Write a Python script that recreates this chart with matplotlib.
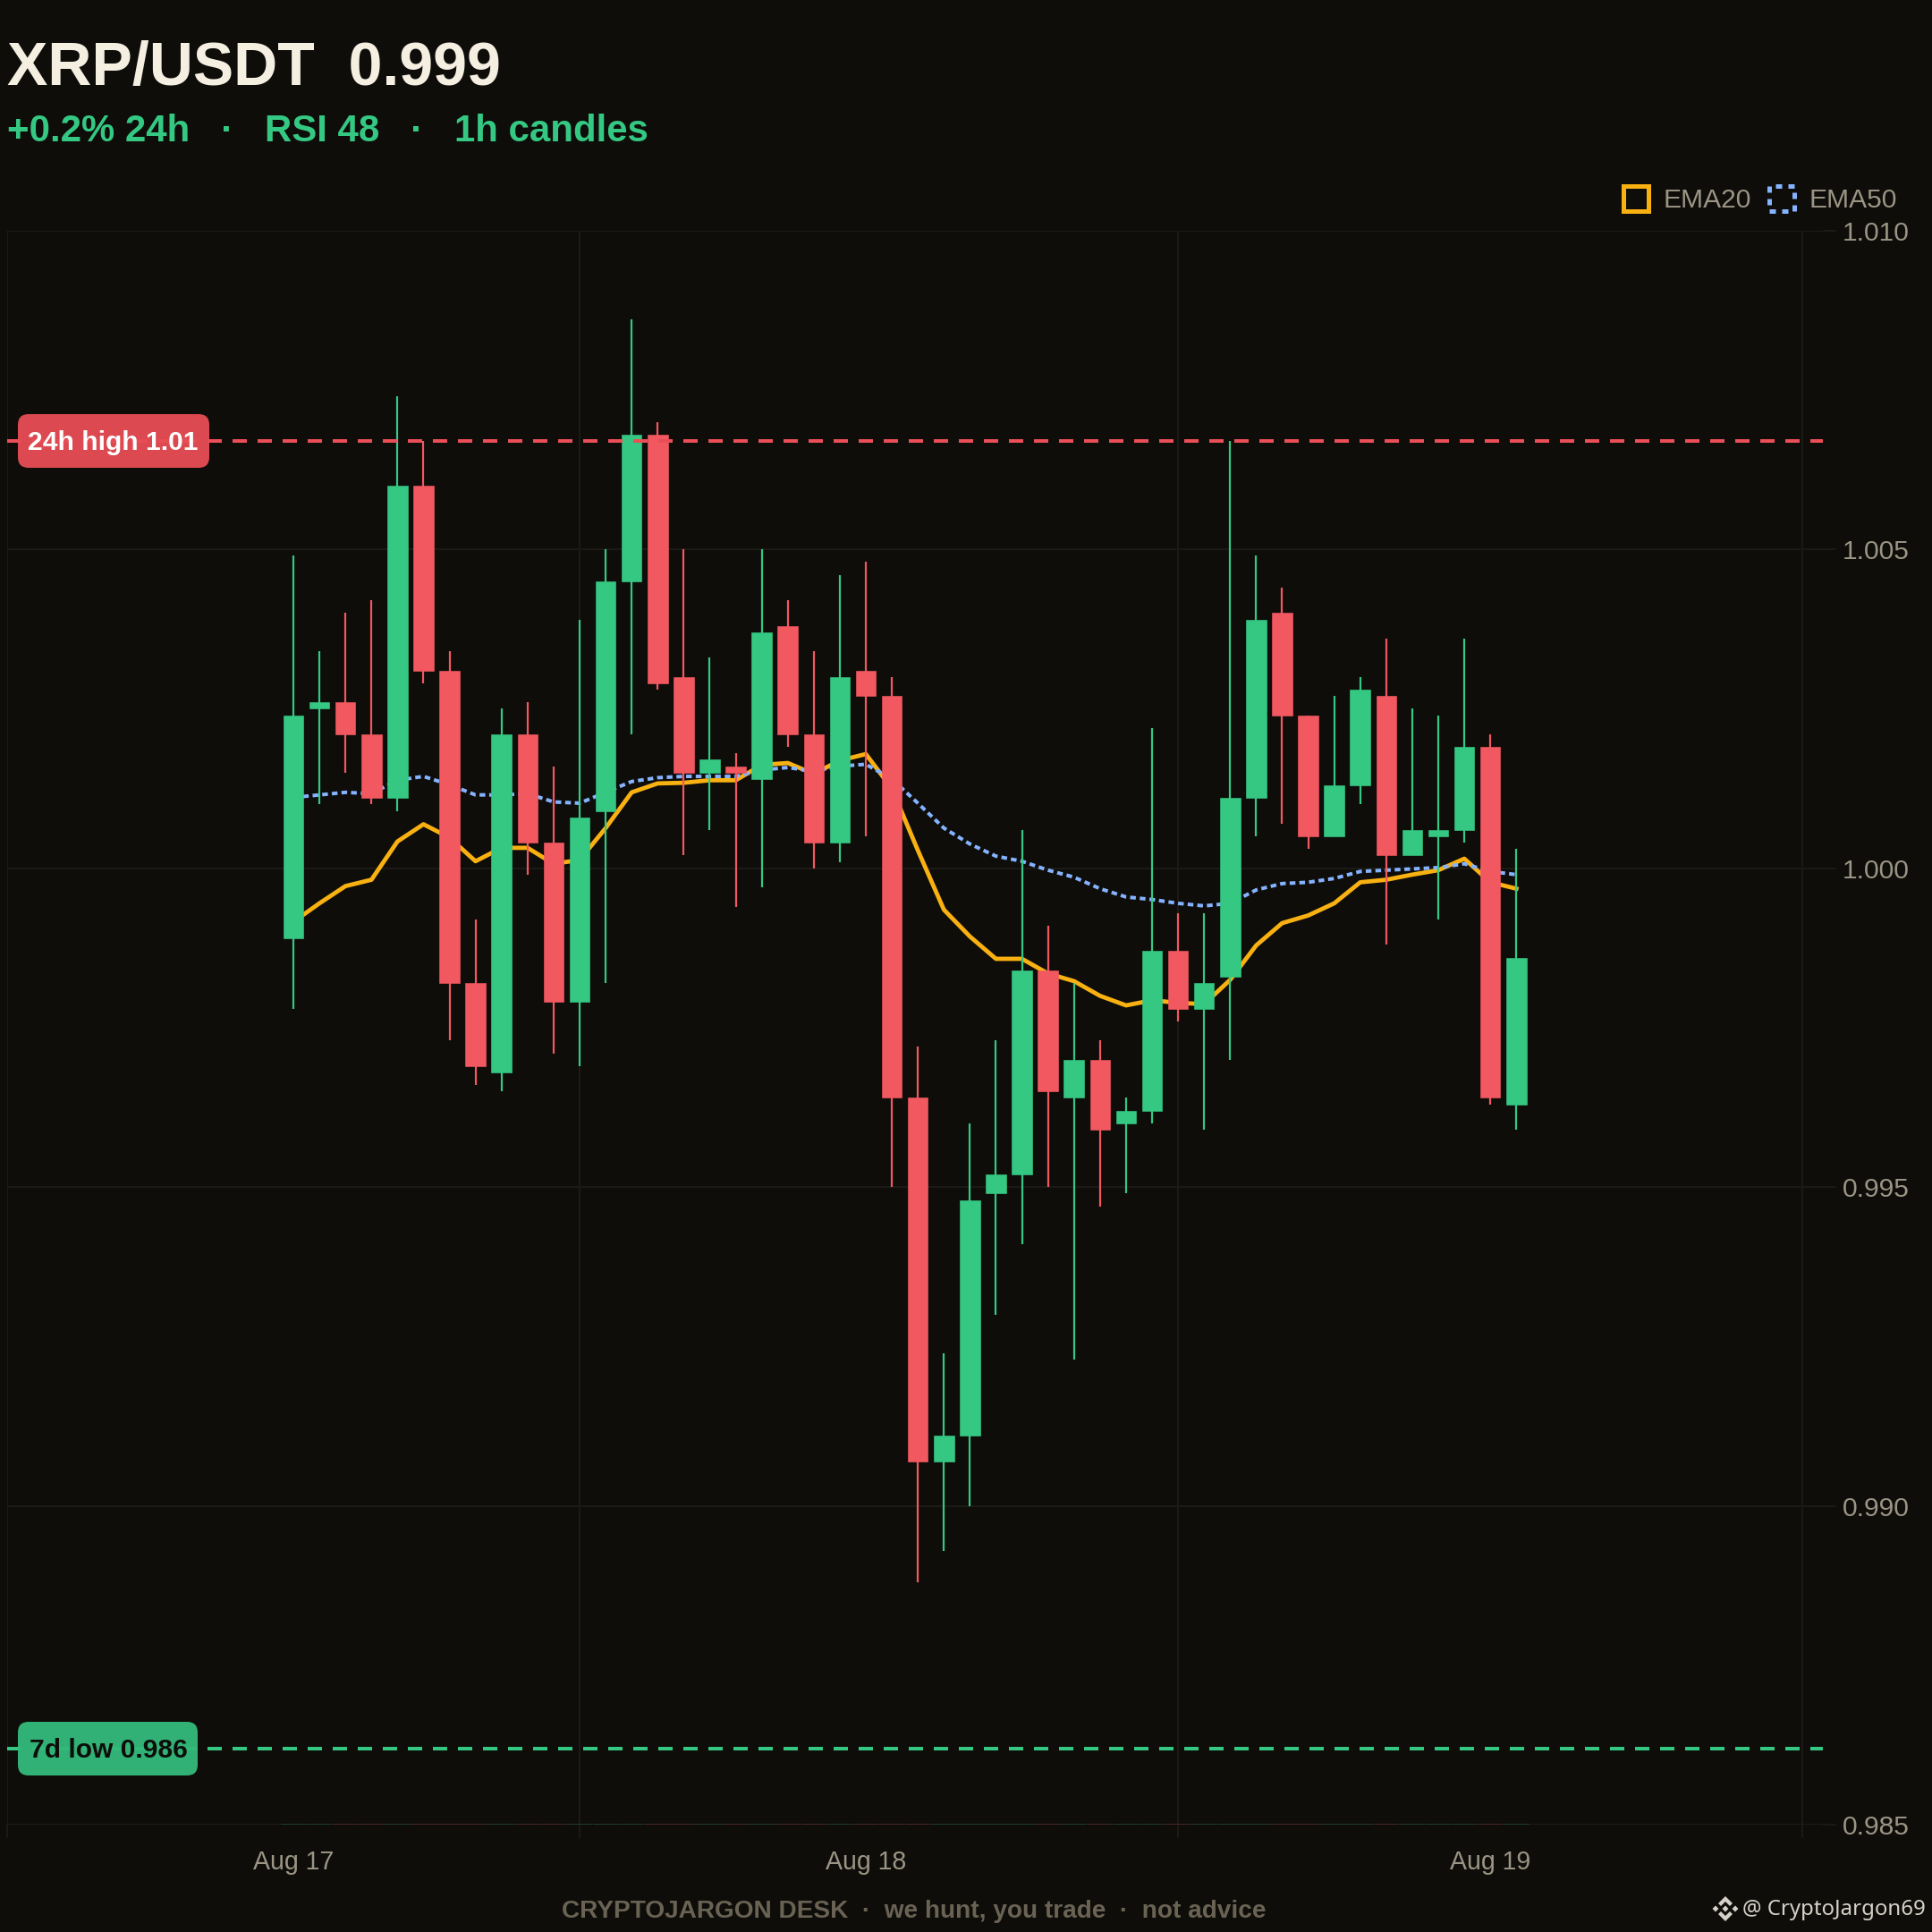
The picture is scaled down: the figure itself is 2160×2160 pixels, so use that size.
import matplotlib
matplotlib.use("Agg")
import matplotlib.pyplot as plt
from matplotlib.patches import Patch, Polygon, FancyBboxPatch

plt.rcParams['font.family'] = ['Liberation Sans', 'DejaVu Sans']

candle_index = list(range(48))
opens = [.9989,1.0025,1.0026,1.0021,1.0011,1.0060,1.0031,.9982,.9968,1.0021,1.0004,.9979,
         1.0009,1.0045,1.0068,1.0030,1.0015,1.0016,1.0014,1.0038,1.0021,1.0004,1.0031,1.0027,
         .9964,.9907,.9911,.9949,.9952,.9984,.9964,.9970,.9960,.9962,.9987,.9978,
         .9983,1.0011,1.0040,1.0024,1.0005,1.0013,1.0027,1.0002,1.0005,1.0006,1.0019,.9963]
closes = [1.0024,1.0026,1.0021,1.0011,1.0060,1.0031,.9982,.9969,1.0021,1.0004,.9979,1.0008,
          1.0045,1.0068,1.0029,1.0015,1.0017,1.0015,1.0037,1.0021,1.0004,1.0030,1.0027,.9964,
          .9907,.9911,.9948,.9952,.9984,.9965,.9970,.9959,.9962,.9987,.9978,.9982,
          1.0011,1.0039,1.0024,1.0005,1.0013,1.0028,1.0002,1.0006,1.0006,1.0019,.9964,.9986]
highs = [1.0049,1.0034,1.0040,1.0042,1.0074,1.0067,1.0034,.9992,1.0025,1.0026,1.0016,1.0039,
         1.0050,1.0086,1.0070,1.0050,1.0033,1.0018,1.0050,1.0042,1.0034,1.0046,1.0048,1.0030,
         .9972,.9924,.9960,.9973,1.0006,.9991,.9982,.9973,.9964,1.0022,.9993,.9993,
         1.0067,1.0049,1.0044,1.0024,1.0027,1.0030,1.0036,1.0025,1.0024,1.0036,1.0021,1.0003]
lows = [.9978,1.0010,1.0015,1.0010,1.0009,1.0029,.9973,.9966,.9965,.9999,.9971,.9969,
        .9982,1.0021,1.0028,1.0002,1.0006,.9994,.9997,1.0019,1.0000,1.0001,1.0005,.9950,
        .9888,.9893,.9900,.9930,.9941,.9950,.9923,.9947,.9949,.9960,.9976,.9959,
        .9970,1.0005,1.0007,1.0003,1.0005,1.0010,.9988,1.0002,.9992,1.0004,.9963,.9959]
ema20 = [.99916,.99945,.99972,.99982,1.00042,1.00069,1.00048,1.00011,1.00032,1.00032,1.00007,1.00013,
         1.00063,1.00119,1.00133,1.00134,1.00138,1.00138,1.00162,1.00165,1.00148,1.00169,1.00179,1.00125,
         1.00028,.99935,.99893,.99858,.99858,.99835,.99823,.99800,.99785,.99793,.99789,.99787,
         .99825,.99879,.99914,.99926,.99945,.99978,.99982,.99990,.99997,1.00015,.99978,.99968]
ema50 = [1.00111,1.00115,1.00119,1.00117,1.00138,1.00144,1.00131,1.00115,1.00115,1.00117,1.00104,1.00102,
         1.00119,1.00136,1.00142,1.00144,1.00144,1.00144,1.00154,1.00158,1.00152,1.00160,1.00163,1.00140,
         1.00102,1.00063,1.00038,1.00019,1.00011,.99997,.99986,.99968,.99955,.99951,.99945,.99941,
         .99945,.99966,.99976,.99978,.99984,.99995,.99997,.99999,1.00001,1.00007,.99995,.99990]
high_24h = 1.0067
low_7d = 0.9862
y_ticks = [0.985, 0.990, 0.995, 1.000, 1.005, 1.010]
y_tick_labels = ['0.985', '0.990', '0.995', '1.000', '1.005', '1.010']
x_grid = [-11, 11, 34, 58]
date_ticks = [0, 22, 46]
date_labels = ['Aug 17', 'Aug 18', 'Aug 19']

BG = '#0e0d0a'; UP = '#35c882'; DOWN = '#f25860'; GRID = '#1b1a17'; MUTED = '#9c9585'
W = H = 2160
PX = 0.72  # points per pixel at dpi 100

fig = plt.figure(figsize=(21.6, 21.6), dpi=100, facecolor=BG)
ax = fig.add_axes([8/W, 1-2040.4/H, (2038-8)/W, (2040.4-257.6)/H], facecolor=BG)
ax.set_xlim(-11, 58.78)
ax.set_ylim(0.985, 1.010)
for s in ax.spines.values():
    s.set_visible(False)

ax.yaxis.tick_right()
ax.set_yticks(y_ticks, y_tick_labels)
ax.set_xticks(x_grid, [''] * len(x_grid))
ax.set_xticks(date_ticks, date_labels, minor=True)
ax.tick_params(axis='both', which='major', length=15*PX, width=2*PX, color=GRID,
               labelcolor=MUTED, labelsize=30*PX, pad=7*PX)
ax.tick_params(axis='x', which='minor', length=0, labelcolor=MUTED, labelsize=28.5*PX, pad=28*PX)
ax.grid(True, which='major', color=GRID, lw=2*PX, zorder=0)
ax.set_axisbelow(True)

ax.plot(candle_index, ema20, color='#f9b111', lw=4.8*PX, zorder=2, solid_joinstyle='round', label='EMA20')
ax.plot(candle_index, ema50, color='#85b3ff', lw=4*PX, zorder=2, linestyle=(0, (1.6, 1.1)), label='EMA50')

colors = [UP if c >= o else DOWN for o, c in zip(opens, closes)]
ax.vlines(candle_index, lows, highs, colors=colors, lw=2.2*PX, zorder=3)
ax.bar(candle_index, [abs(c-o) for o, c in zip(opens, closes)],
       bottom=[min(o, c) for o, c in zip(opens, closes)],
       width=0.775, color=colors, edgecolor=colors, lw=0.6*PX, zorder=4)
# flattened volume strip along the axis floor
ax.bar(candle_index, [0.00002]*48, bottom=0.985, width=0.98, color=colors, alpha=0.2, lw=0, zorder=1)

for val, col in ((high_24h, '#ea4f57'), (low_7d, UP)):
    ax.plot([-11, 58.78], [val, val], color=col, lw=4*PX, linestyle=(0, (4, 3)), zorder=5)

def tag(x0, x1, y0, y1, fc, alpha, text, tx, ty, tc):
    fig.add_artist(FancyBboxPatch((x0/W, 1-y1/H), (x1-x0)/W, (y1-y0)/H,
                                  boxstyle=f'round,pad=0,rounding_size={12/W}', fc=fc, ec='none',
                                  alpha=alpha, transform=fig.transFigure, zorder=6))
    fig.text(tx/W, 1-ty/H, text, color=tc, fontsize=30*PX, fontweight='bold', ha='left', va='center', zorder=7)

tag(20, 234, 463, 523, '#e84d55', 0.95, '24h high 1.01', 31, 495, 'white')
tag(20, 221, 1925, 1985, '#33b97a', 0.96, '7d low 0.986', 33, 1957, BG)

handles = [Patch(fc='none', ec='#f9b111', lw=5*PX, label='EMA20'),
           Patch(fc='none', ec='#85b3ff', lw=5*PX, linestyle=(0, (1.4, 1.4)), label='EMA50')]
fig.legend(handles=handles, loc='lower right', bbox_to_anchor=(2121/W, 1-238/H), ncol=2, frameon=False,
           fontsize=30*PX, labelcolor=MUTED, handlelength=0.93, handleheight=1.05, handletextpad=0.57,
           columnspacing=0.65, borderpad=0, borderaxespad=0)

fig.text(8/W, 1-95/H, 'XRP/USDT  0.999', color='#f5efe2', fontsize=68*PX, fontweight='bold', va='baseline')
fig.text(8/W, 1-158/H, '+0.2% 24h   ·   RSI 48   ·   1h candles', color=UP, fontsize=42*PX, fontweight='bold', va='baseline')
fig.text(1022/W, 1-2137/H, 'CRYPTOJARGON DESK  ·  we hunt, you trade  ·  not advice', color='#6a6354',
         fontsize=28*PX, fontweight='bold', ha='center', va='center')
fig.text(1948/W, 1-2135/H, '@ CryptoJargon69', color='#d5d1c8', fontsize=24*PX, family='Noto Sans', va='center')

def glyph(pts):
    fig.add_artist(Polygon([(x/W, 1-y/H) for x, y in pts], closed=True, fc='#d5d1c8', ec='none', transform=fig.transFigure))
cx, cy, = 1929, 2134
glyph([(cx, cy-14), (cx+8, cy-6), (cx+5, cy-3), (cx, cy-8), (cx-5, cy-3), (cx-8, cy-6)])
glyph([(cx, cy+14), (cx+8, cy+6), (cx+5, cy+3), (cx, cy+8), (cx-5, cy+3), (cx-8, cy+6)])
for dx, dy in ((-11, 0), (11, 0), (0, 0)):
    glyph([(cx+dx, cy+dy-3.5), (cx+dx+3.5, cy+dy), (cx+dx, cy+dy+3.5), (cx+dx-3.5, cy+dy)])

fig.savefig('out.png', dpi=100, facecolor=BG)
